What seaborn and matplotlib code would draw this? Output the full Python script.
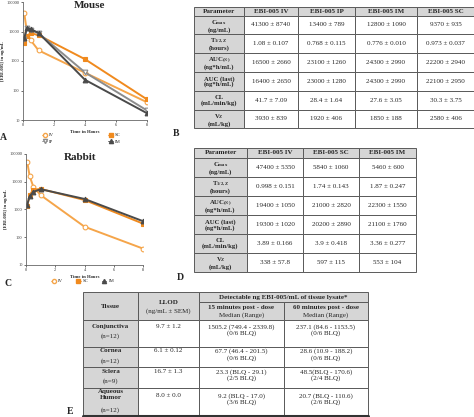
import pandas as pd
import seaborn as sns
import matplotlib.pyplot as plt
from matplotlib.lines import Line2D
from matplotlib.patches import Rectangle

# ---- data ----
time_h = [0.083, 0.25, 0.5, 1, 4, 8]

mouse_iv = [41000, 10000, 5000, 2300, 400, 40]
mouse_sc = [4100, 7000, 8800, 7500, 1150, 50]
mouse_ip = [5500, 13000, 11000, 8800, 410, 21]
mouse_im = [6000, 13000, 12000, 9000, 230, 17]

rabbit_iv = [52000, 16000, 6600, 3300, 240, 39]
rabbit_sc = [1350, 3300, 5200, 5500, 2200, 310]
rabbit_im = [1500, 3000, 4300, 5400, 2400, 380]

param_labels = ['C$_{max}$\n(ng/mL)', 'T$_{1/2,Z}$\n(hours)', 'AUC$_{(\\infty)}$\n(ng*h/mL)',
                'AUC (last)\n(ng*h/mL)', 'CL\n(mL/min/kg)', 'V$_{Z}$\n(mL/kg)']

mouse_routes = ['EBI-005 IV', 'EBI-005 IP', 'EBI-005 IM', 'EBI-005 SC']
mouse_pk = [
    ['41300 ± 8740', '13400 ± 789', '12800 ± 1090', '9370 ± 935'],
    ['1.08 ± 0.107', '0.768 ± 0.115', '0.776 ± 0.010', '0.973 ± 0.037'],
    ['16500 ± 2660', '23100 ± 1260', '24300 ± 2990', '22200 ± 2940'],
    ['16400 ± 2650', '23000 ± 1280', '24300 ± 2990', '22100 ± 2950'],
    ['41.7 ± 7.09', '28.4 ± 1.64', '27.6 ± 3.05', '30.3 ± 3.75'],
    ['3930 ± 839', '1920 ± 406', '1850 ± 188', '2580 ± 406'],
]

rabbit_routes = ['EBI-005 IV', 'EBI-005 SC', 'EBI-005 IM']
rabbit_pk = [
    ['47400 ± 5350', '5840 ± 1060', '5460 ± 600'],
    ['0.998 ± 0.151', '1.74 ± 0.143', '1.87 ± 0.247'],
    ['19400 ± 1050', '21000 ± 2820', '22300 ± 1550'],
    ['19300 ± 1020', '20200 ± 2890', '21100 ± 1760'],
    ['3.89 ± 0.166', '3.9 ± 0.418', '3.36 ± 0.277'],
    ['338 ± 57.8', '597 ± 115', '553 ± 104'],
]

tissues = ['Conjunctiva', 'Cornea', 'Sclera', 'Aqueous\nHumor']
tissue_n = ['(n=12)', '(n=12)', '(n=9)', '(n=12)']
llod = ['9.7 ± 1.2', '6.1 ± 0.12', '16.7 ± 1.3', '8.0 ± 0.0']
post15 = ['1505.2 (749.4 - 2339.8)\n(0/6 BLQ)', '67.7 (46.4 - 201.5)\n(0/6 BLQ)',
          '23.3 (BLQ - 29.1)\n(2/5 BLQ)', '9.2 (BLQ - 17.0)\n(3/6 BLQ)']
post60 = ['237.1 (84.6 - 1153.5)\n(0/6 BLQ)', '28.6 (10.9 - 188.2)\n(0/6 BLQ)',
          '48.5(BLQ - 170.6)\n(2/4 BLQ)', '20.7 (BLQ - 110.6)\n(2/6 BLQ)']

# ---- style ----
sns.set_style('ticks')
plt.rcParams['font.family'] = ['Liberation Serif', 'DejaVu Serif']
plt.rcParams['mathtext.fontset'] = 'custom'
plt.rcParams['mathtext.rm'] = 'Liberation Serif:bold'
plt.rcParams['mathtext.it'] = 'Liberation Serif:bold'

ORANGE_LT = '#f5a54a'
ORANGE = '#f08a1e'
GREY = '#8c8c8c'
DARK = '#4a4a4a'
HEAD = '#d6d6d6'
EDGE = '#5a5a5a'
W, H = 474, 417

series_style = {
    'IV': dict(color=ORANGE_LT, marker='o', mfc='white'),
    'SC': dict(color=ORANGE, marker='s', mfc=ORANGE),
    'IP': dict(color=GREY, marker='v', mfc='white'),
    'IM': dict(color=DARK, marker='^', mfc=DARK),
}

fig = plt.figure(figsize=(W / 100, H / 100), dpi=100)

# overlay for tables / panel letters, in pixel coordinates
tab = fig.add_axes([0, 0, 1, 1])
tab.set_xlim(0, W)
tab.set_ylim(H, 0)
tab.axis('off')


def px_axes(left, right, top, bottom):
    return fig.add_axes([left / W, (H - bottom) / H, (right - left) / W, (bottom - top) / H])


def pk_plot(ax, series, title, tx):
    for name, vals in series.items():
        st = series_style[name]
        sns.lineplot(x=time_h, y=vals, ax=ax, color=st['color'], marker=st['marker'],
                     markerfacecolor=st['mfc'], markeredgecolor=st['color'],
                     markersize=3.4, markeredgewidth=0.8, linewidth=1.4)
    ax.set_yscale('log')
    ax.set_ylim(10, 100000)
    ax.set_xlim(0, 8)
    ax.set_yticks([10, 100, 1000, 10000, 100000])
    ax.set_yticklabels(['10', '100', '1000', '10000', '100000'])
    ax.minorticks_off()
    ax.set_xticks([0, 2, 4, 6, 8])
    ax.tick_params(labelsize=3.2, length=1.5, width=0.5, pad=1, colors='#333333')
    for s in ('top', 'right'):
        ax.spines[s].set_visible(False)
    for s in ('left', 'bottom'):
        ax.spines[s].set_color('#666666')
        ax.spines[s].set_linewidth(0.6)
    ax.set_xlabel('Time in Hours', fontsize=3.4, fontweight='bold', labelpad=1.5)
    ax.set_ylabel('[EBI-005] in ng/mL', fontsize=3.4, fontweight='bold', labelpad=1.5)
    ax.text(tx, 0.97, title, transform=ax.transAxes, ha='center', va='center',
            fontsize=8, fontweight='bold')


def handle(name):
    st = series_style[name]
    return Line2D([], [], color=st['color'], marker=st['marker'], markerfacecolor=st['mfc'],
                  markeredgecolor=st['color'], markersize=3, lw=0.6)


# ---- panel A: mouse ----
ax_m = px_axes(23, 147, 2, 120)
pk_plot(ax_m, {'IV': mouse_iv, 'SC': mouse_sc, 'IP': mouse_ip, 'IM': mouse_im}, 'Mouse', 0.54)
fig.legend([handle(n) for n in ['IV', 'IP', 'SC', 'IM']], ['IV', 'IP', 'SC', 'IM'],
           ncol=2, loc='center left', bbox_to_anchor=(38 / W, (H - 138.5) / H), frameon=False,
           fontsize=3.4, handlelength=1.0, handletextpad=0.4, columnspacing=11.5, labelspacing=0.5)

# ---- panel C: rabbit ----
ax_r = px_axes(26, 143, 154, 265)
pk_plot(ax_r, {'IV': rabbit_iv, 'SC': rabbit_sc, 'IM': rabbit_im}, 'Rabbit', 0.46)
fig.legend([handle(n) for n in ['IV', 'SC', 'IM']], ['IV', 'SC', 'IM'],
           ncol=3, loc='center left', bbox_to_anchor=(47 / W, (H - 281) / H), frameon=False,
           fontsize=3.4, handlelength=1.0, handletextpad=0.4, columnspacing=2.8)


# ---- tables ----
def cell(x0, x1, y0, y1, fill='white'):
    tab.add_patch(Rectangle((x0, y0), x1 - x0, y1 - y0, facecolor=fill, edgecolor=EDGE, lw=0.7))


def pk_table(x_edges, y_edges, routes, rows):
    cell(x_edges[0], x_edges[1], y_edges[0], y_edges[1], HEAD)
    tab.text((x_edges[0] + x_edges[1]) / 2, (y_edges[0] + y_edges[1]) / 2, 'Parameter',
             ha='center', va='center', fontsize=5, fontweight='bold')
    for j, r in enumerate(routes):
        x0, x1 = x_edges[j + 1], x_edges[j + 2]
        cell(x0, x1, y_edges[0], y_edges[1], HEAD)
        tab.text((x0 + x1) / 2, (y_edges[0] + y_edges[1]) / 2, r,
                 ha='center', va='center', fontsize=5, fontweight='bold')
    for i, lab in enumerate(param_labels):
        y0, y1 = y_edges[i + 1], y_edges[i + 2]
        cell(x_edges[0], x_edges[1], y0, y1, HEAD)
        tab.text((x_edges[0] + x_edges[1]) / 2, (y0 + y1) / 2 + 0.3, lab, ha='center', va='center',
                 fontsize=4.8, fontweight='bold', linespacing=1.0)
        for j, v in enumerate(rows[i]):
            x0, x1 = x_edges[j + 1], x_edges[j + 2]
            cell(x0, x1, y0, y1)
            tab.text((x0 + x1) / 2, (y0 + y1) / 2, v, ha='center', va='center', fontsize=5)


pk_table([194, 244, 298, 355, 417, 474], [7, 15.5, 34.3, 53.1, 71.9, 90.7, 109.5, 128.3],
         mouse_routes, mouse_pk)
pk_table([194, 247, 303, 359, 416], [148, 158, 177, 196, 215, 234, 253, 272],
         rabbit_routes, rabbit_pk)

# table E
xe = [83, 138, 199, 284, 368]
ye = [292, 302, 320, 347, 367, 388, 416]
label_top = [4.0, 1.5, 2.0, 1.0]
value_top = [4.0, 1.5, 2.0, 5.0]
cell(xe[0], xe[1], ye[0], ye[2], HEAD)
tab.text((xe[0] + xe[1]) / 2, 307, 'Tissue', ha='center', va='center', fontsize=5, fontweight='bold')
cell(xe[1], xe[2], ye[0], ye[2], HEAD)
tab.text((xe[1] + xe[2]) / 2, 302, 'LLOD', ha='center', va='center', fontsize=5, fontweight='bold')
tab.text((xe[1] + xe[2]) / 2, 311, '(ng/mL ± SEM)', ha='center', va='center', fontsize=5)
cell(xe[2], xe[4], ye[0], ye[1], HEAD)
tab.text((xe[2] + xe[4]) / 2, 297, 'Detectable ng EBI-005/mL of tissue lysate*',
         ha='center', va='center', fontsize=5, fontweight='bold')
for j, head in enumerate(['15 minutes post - dose', '60 minutes post - dose']):
    x0, x1 = xe[2 + j], xe[3 + j]
    cell(x0, x1, ye[1], ye[2], HEAD)
    tab.text((x0 + x1) / 2, 307, head, ha='center', va='center', fontsize=5, fontweight='bold')
    tab.text((x0 + x1) / 2, 315.5, 'Median (Range)', ha='center', va='center', fontsize=5)

for i in range(len(tissues)):
    y0, y1 = ye[i + 2], ye[i + 3]
    cell(xe[0], xe[1], y0, y1, HEAD)
    tab.text((xe[0] + xe[1]) / 2, y0 + label_top[i], tissues[i], ha='center', va='top', fontsize=5,
             fontweight='bold', linespacing=1.15)
    nl = tissues[i].count('\n') + 1
    tab.text((xe[0] + xe[1]) / 2, y0 + label_top[i] + 9.3 * nl, tissue_n[i],
             ha='center', va='top', fontsize=5)
    top = y0 + value_top[i]
    cell(xe[1], xe[2], y0, y1)
    tab.text((xe[1] + xe[2]) / 2, top, llod[i], ha='center', va='top', fontsize=5)
    for j, col in enumerate([post15, post60]):
        x0, x1 = xe[2 + j], xe[3 + j]
        cell(x0, x1, y0, y1)
        tab.text((x0 + x1) / 2, top, col[i], ha='center', va='top', fontsize=5, linespacing=1.2)
tab.plot([xe[0], xe[4]], [ye[-1], ye[-1]], color='#333333', lw=2.2)

# panel letters
for letter, (x, y) in {'A': (3, 137), 'B': (176, 134), 'C': (8, 283), 'D': (180, 277),
                       'E': (70, 412)}.items():
    tab.text(x, y, letter, ha='center', va='center', fontsize=7, fontweight='bold')

fig.savefig('out.png', dpi=100)
